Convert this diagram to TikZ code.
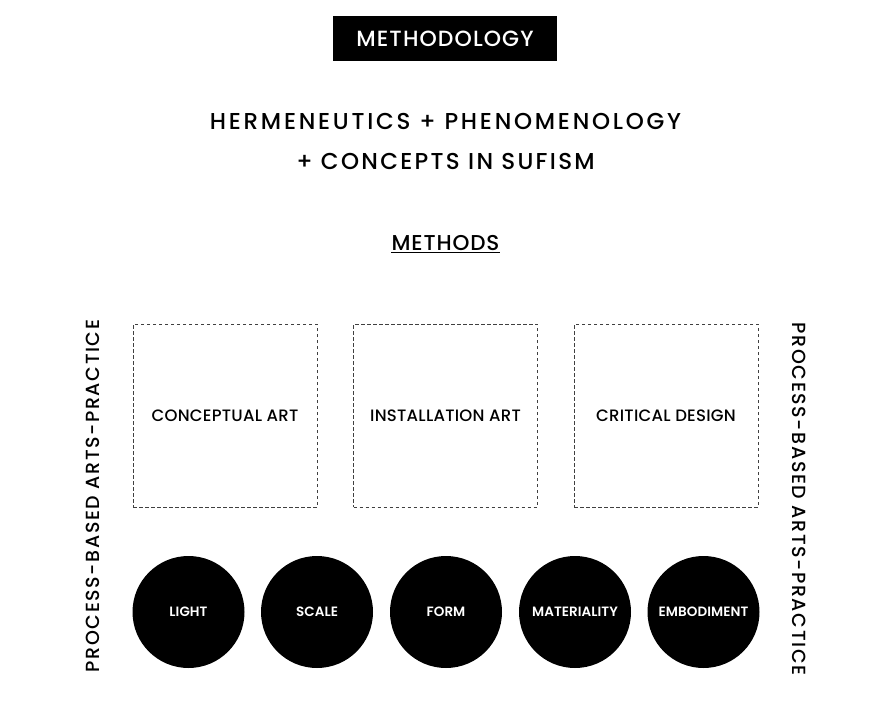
\documentclass[tikz,border=0pt]{standalone}
\usepackage{fontspec}
\setmainfont{Poppins}[UprightFont={* Medium},BoldFont={* SemiBold}]
\usetikzlibrary{calc}
\begin{document}
\begin{tikzpicture}[x=1pt,y=-1pt,
  title/.style={fill=black,text=white,minimum width=224pt,minimum height=45pt,inner sep=0pt,font=\fontsize{22}{26}\selectfont\addfontfeature{LetterSpace=5}},
  heading/.style={font=\fontsize{23}{27}\selectfont\addfontfeature{LetterSpace=12},inner sep=0pt},
  methbox/.style={draw=black!75,dashed,dash pattern=on 3.5pt off 2.5pt,line width=0.8pt,minimum width=184pt,minimum height=183pt,inner sep=0pt,font=\fontsize{16.5}{20}\selectfont\addfontfeature{LetterSpace=1.5}},
  dot/.style={circle,fill=black,text=white,minimum size=112pt,inner sep=0pt,font=\fontsize{13.5}{16}\bfseries\addfontfeature{LetterSpace=0.5}},
  sidetext/.style={font=\fontsize{19}{22}\selectfont\addfontfeature{LetterSpace=8.5},inner sep=0pt}
]
\useasboundingbox (0,0) rectangle (886,714);
\fill[white] (0,0) rectangle (886,714);
\node[title] (title) at (445,38.5) {METHODOLOGY};
\node[heading] (h1) at (445.5,121) {HERMENEUTICS + PHENOMENOLOGY};
\node[heading,font=\fontsize{23}{27}\selectfont\addfontfeature{LetterSpace=10}] (h2) at (445.5,161) {+ CONCEPTS IN SUFISM};
\node[font=\fontsize{21.5}{25}\selectfont\addfontfeature{LetterSpace=4},inner sep=0pt] (methods) at (445.5,243) {METHODS};
\draw[line width=1.2pt] ($(methods.south west)+(0,2)$) -- ($(methods.south east)+(0,2)$);
\node[methbox] (b1) at (225,415.5) {CONCEPTUAL ART};
\node[methbox] (b2) at (445.5,415.5) {INSTALLATION ART};
\node[methbox] (b3) at (666,415.5) {CRITICAL DESIGN};
\node[dot] (c1) at (188.5,612) {LIGHT};
\node[dot] (c2) at (317,612) {SCALE};
\node[dot] (c3) at (446,612) {FORM};
\node[dot] (c4) at (575,612) {MATERIALITY};
\node[dot] (c5) at (703.5,612) {EMBODIMENT};
\node[sidetext,rotate=90] (left) at (92.5,496) {PROCESS-BASED ARTS-PRACTICE};
\node[sidetext,rotate=-90] (right) at (799,499) {PROCESS-BASED ARTS-PRACTICE};
\end{tikzpicture}
\end{document}
